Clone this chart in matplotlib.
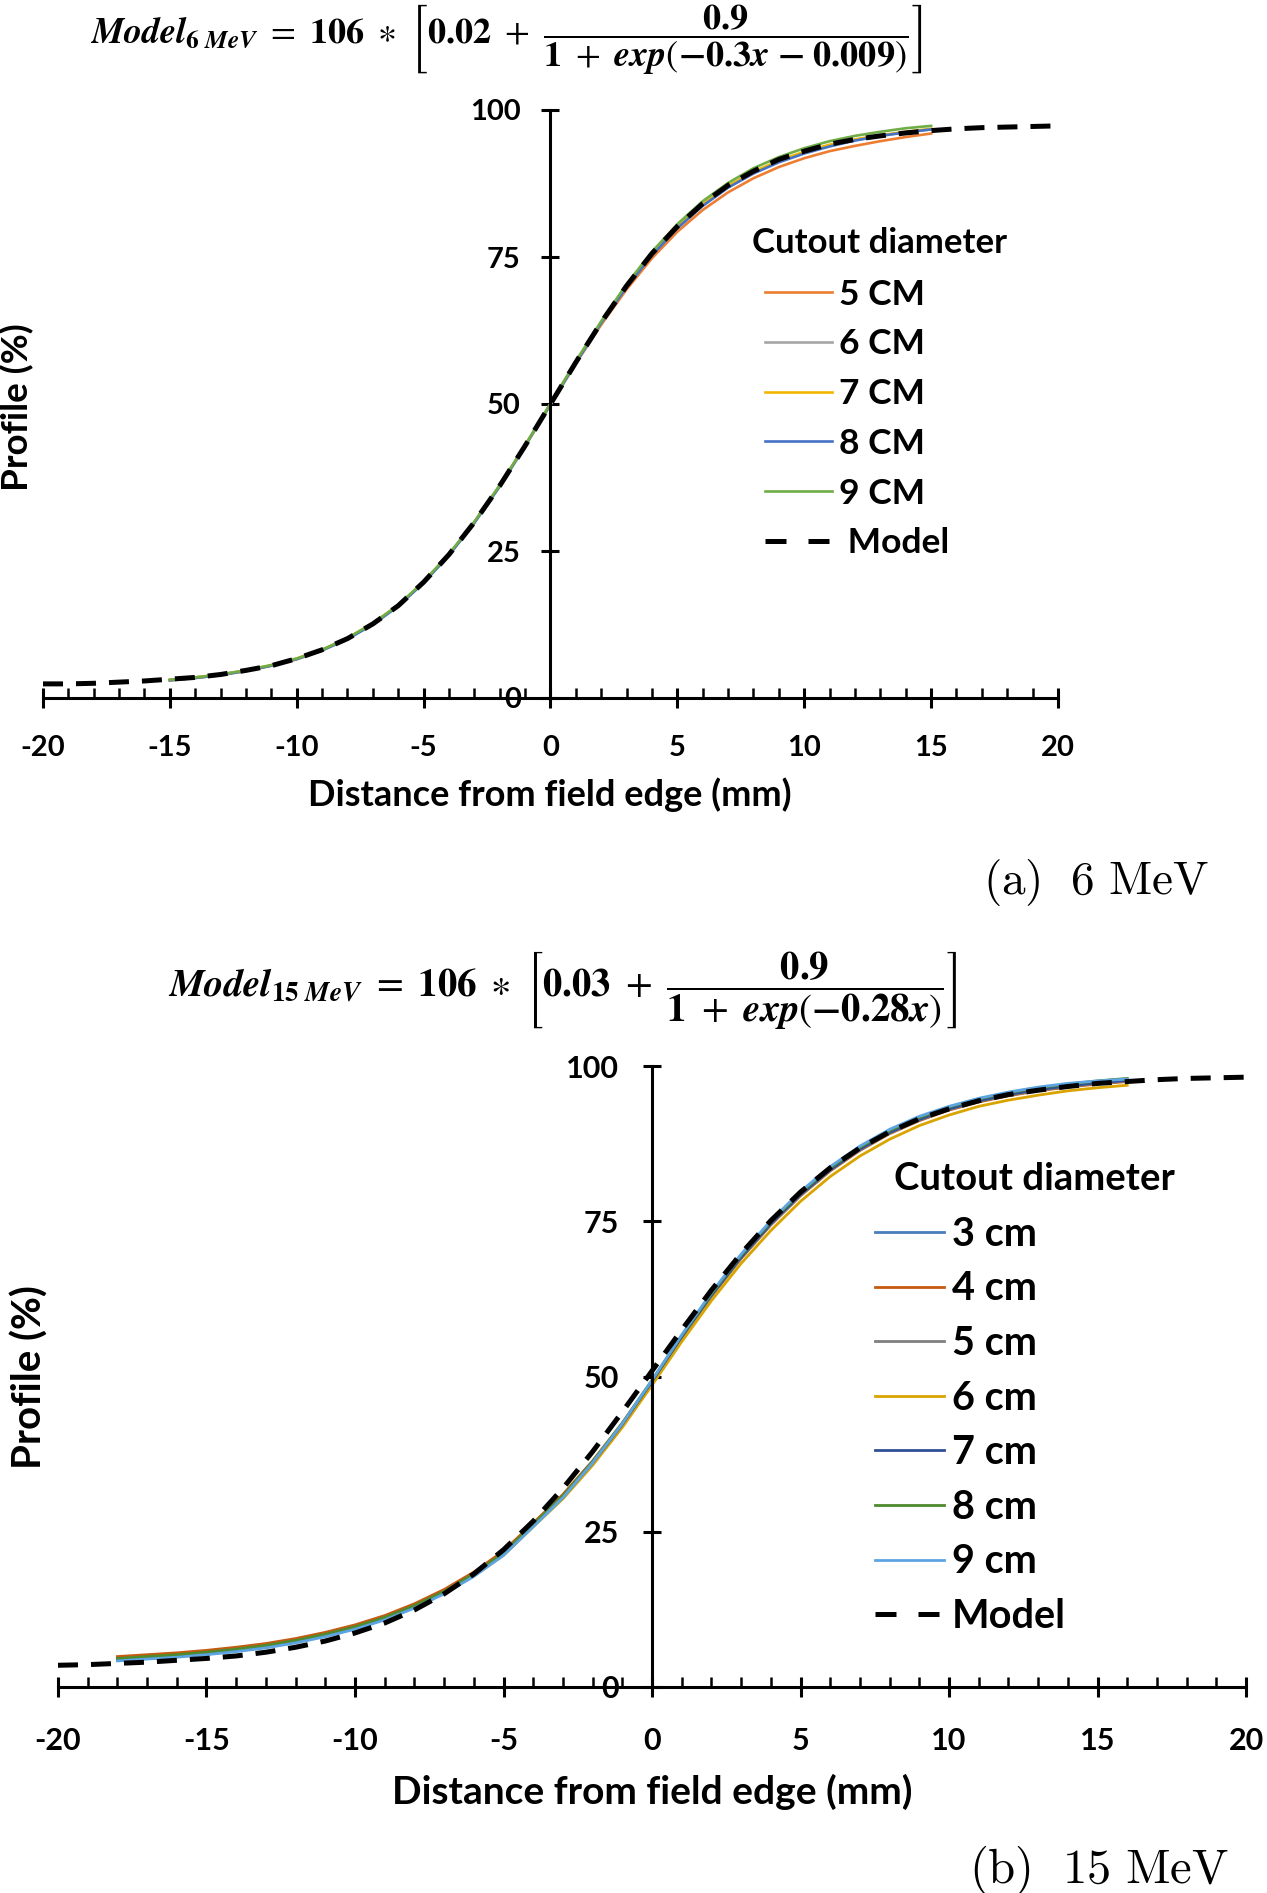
import numpy as np
import matplotlib
matplotlib.use('Agg')
import matplotlib.pyplot as plt
from matplotlib.lines import Line2D
from matplotlib.ticker import MultipleLocator

plt.rcParams['font.family'] = ['Lato', 'DejaVu Sans']
plt.rcParams['axes.unicode_minus'] = False

# ---- data ----
x_model = list(range(-20, 21))
x_6mev = list(range(-15, 16))
x_15mev = list(range(-18, 17))

model_6mev = [2.4, 2.4, 2.5, 2.7, 2.9, 3.2, 3.5, 4.0, 4.7, 5.5, 6.7, 8.2, 10.1, 12.6, 15.7, 19.7,
              24.4, 29.9, 36.1, 42.9, 50.0, 57.1, 63.9, 70.1, 75.6, 80.2, 84.1, 87.2, 89.6, 91.6,
              93.0, 94.2, 95.0, 95.6, 96.1, 96.5, 96.8, 97.0, 97.1, 97.2, 97.3]

cm5_6mev = [3.0, 3.4, 3.9, 4.6, 5.5, 6.6, 8.1, 10.1, 12.6, 15.7, 19.7, 24.4, 29.9, 36.1, 42.9, 49.9,
            56.9, 63.5, 69.5, 74.8, 79.3, 83.0, 86.0, 88.4, 90.3, 91.8, 93.0, 93.9, 94.7, 95.4, 96.0]
cm6_6mev = [3.1, 3.5, 4.0, 4.7, 5.5, 6.7, 8.2, 10.1, 12.6, 15.7, 19.6, 24.3, 29.8, 36.0, 42.8, 49.9,
            57.0, 63.8, 70.0, 75.4, 80.0, 83.8, 86.9, 89.3, 91.3, 92.8, 94.0, 94.9, 95.6, 96.2, 96.7]
cm7_6mev = [3.1, 3.5, 4.0, 4.7, 5.6, 6.7, 8.2, 10.2, 12.7, 15.8, 19.7, 24.4, 29.9, 36.1, 42.9, 50.0,
            57.1, 63.8, 70.0, 75.5, 80.1, 84.0, 87.1, 89.5, 91.4, 92.9, 94.1, 95.0, 95.7, 96.3, 96.8]
cm8_6mev = [3.0, 3.4, 3.9, 4.6, 5.5, 6.6, 8.1, 10.0, 12.5, 15.6, 19.6, 24.3, 29.8, 36.0, 42.9, 50.0,
            57.0, 63.8, 69.9, 75.3, 79.9, 83.7, 86.8, 89.2, 91.1, 92.6, 93.8, 94.8, 95.6, 96.2, 96.7]
cm9_6mev = [3.1, 3.5, 4.0, 4.7, 5.6, 6.7, 8.2, 10.2, 12.7, 15.8, 19.8, 24.5, 30.0, 36.2, 43.0, 50.1,
            57.3, 64.1, 70.4, 75.9, 80.6, 84.5, 87.6, 90.1, 92.0, 93.5, 94.7, 95.6, 96.3, 96.9, 97.3]

model_15mev = [3.5, 3.6, 3.8, 4.0, 4.3, 4.6, 5.0, 5.6, 6.4, 7.4, 8.7, 10.3, 12.4, 15.0, 18.2, 22.1,
               26.7, 32.0, 37.9, 44.3, 50.9, 57.5, 63.9, 69.8, 75.1, 79.7, 83.6, 86.8, 89.4, 91.5,
               93.1, 94.4, 95.4, 96.1, 96.7, 97.2, 97.5, 97.8, 98.0, 98.1, 98.2]

cm3_15mev = [4.3, 4.6, 4.9, 5.3, 5.8, 6.4, 7.2, 8.2, 9.4, 10.9, 12.8, 15.1, 17.9, 21.3, 25.9, 30.5, 36.0,
             42.2, 49.1, 56.4, 63.1, 69.3, 74.7, 79.4, 83.4, 86.7, 89.4, 91.5, 93.2, 94.5, 95.5, 96.3,
             96.9, 97.4, 97.8]
cm4_15mev = [4.9, 5.2, 5.5, 5.9, 6.4, 7.0, 7.8, 8.8, 10.0, 11.5, 13.4, 15.7, 18.5, 21.9, 26.4, 31.0, 36.4,
             42.5, 49.3, 56.3, 62.9, 69.0, 74.4, 79.1, 83.1, 86.4, 89.1, 91.2, 92.9, 94.2, 95.2, 96.0,
             96.6, 97.1, 97.5]
cm5_15mev = [4.5, 4.8, 5.1, 5.5, 6.0, 6.6, 7.4, 8.4, 9.6, 11.1, 13.0, 15.3, 18.1, 21.5, 26.1, 30.6, 36.1,
             42.3, 49.2, 56.3, 63.0, 69.1, 74.5, 79.2, 83.2, 86.5, 89.2, 91.3, 93.0, 94.3, 95.3, 96.1,
             96.7, 97.2, 97.6]
cm6_15mev = [4.5, 4.8, 5.1, 5.5, 6.0, 6.6, 7.4, 8.4, 9.6, 11.1, 12.9, 15.2, 17.9, 21.2, 25.8, 30.3, 35.7,
             41.8, 48.6, 55.6, 62.2, 68.2, 73.5, 78.2, 82.2, 85.5, 88.2, 90.4, 92.1, 93.5, 94.5, 95.3,
             96.0, 96.5, 96.9]
cm7_15mev = [4.4, 4.7, 5.0, 5.4, 5.9, 6.5, 7.3, 8.3, 9.5, 11.0, 12.9, 15.2, 18.0, 21.4, 26.0, 30.6, 36.1,
             42.3, 49.2, 56.4, 63.1, 69.2, 74.6, 79.3, 83.3, 86.6, 89.3, 91.4, 93.1, 94.4, 95.4, 96.2,
             96.8, 97.3, 97.7]
cm8_15mev = [4.6, 4.9, 5.2, 5.6, 6.1, 6.7, 7.5, 8.5, 9.7, 11.2, 13.1, 15.4, 18.2, 21.6, 26.2, 30.8, 36.3,
             42.5, 49.4, 56.6, 63.3, 69.5, 74.9, 79.6, 83.6, 86.9, 89.6, 91.7, 93.4, 94.7, 95.7, 96.5,
             97.1, 97.6, 98.0]
cm9_15mev = [4.2, 4.5, 4.8, 5.2, 5.7, 6.3, 7.1, 8.1, 9.3, 10.8, 12.7, 15.0, 17.8, 21.2, 25.8, 30.5, 36.1,
             42.4, 49.4, 56.7, 63.5, 69.7, 75.1, 79.8, 83.8, 87.1, 89.8, 91.9, 93.5, 94.8, 95.8, 96.6,
             97.2, 97.6, 97.9]

labels_6mev = ['5 CM', '6 CM', '7 CM', '8 CM', '9 CM']
colors_6mev = ['#ED7D31', '#A5A5A5', '#F2B600', '#4472C4', '#70AD47']
labels_15mev = ['3 cm', '4 cm', '5 cm', '6 cm', '7 cm', '8 cm', '9 cm']
colors_15mev = ['#4A7EBB', '#C55A11', '#7F7F7F', '#D9A300', '#2F4F96', '#4E8A2E', '#5DA5E2']

W, H = 1267, 1893
fig = plt.figure(figsize=(W / 100, H / 100), dpi=100)


def px(x0, y0, x1, y1):
    # figure-pixel box -> axes rect
    return [x0 / W, 1 - y1 / H, (x1 - x0) / W, (y1 - y0) / H]


def style_axes(ax, tick_size, pad_x, pad_y):
    ax.set_xlim(-20, 20)
    ax.set_ylim(0, 100)
    ax.spines['left'].set_position(('data', 0))
    ax.spines['bottom'].set_position(('data', 0))
    ax.spines['top'].set_visible(False)
    ax.spines['right'].set_visible(False)
    for s in ['left', 'bottom']:
        ax.spines[s].set_linewidth(2.2)
    ax.xaxis.set_major_locator(MultipleLocator(5))
    ax.xaxis.set_minor_locator(MultipleLocator(1))
    ax.yaxis.set_major_locator(MultipleLocator(25))
    ax.tick_params(axis='x', which='major', direction='inout', length=15, width=2.2,
                   labelsize=tick_size, pad=pad_x)
    ax.tick_params(axis='x', which='minor', direction='in', length=7, width=1.8)
    ax.tick_params(axis='y', which='major', direction='inout', length=13, width=2.2,
                   labelsize=tick_size, pad=pad_y)
    for lab in ax.get_xticklabels() + ax.get_yticklabels():
        lab.set_fontweight('bold')
    ax.patch.set_alpha(0)


# legend handle for the model: two dashes, like the Excel legend
model_key = Line2D([], [], color='black', lw=3.6, dashes=(4.2, 4.4))

# ---- (a) 6 MeV ----
ax1 = fig.add_axes(px(43, 110, 1058, 698))
series_6 = [cm5_6mev, cm6_6mev, cm7_6mev, cm8_6mev, cm9_6mev]
handles1 = []
for y, lab, c in zip(series_6, labels_6mev, colors_6mev):
    handles1 += ax1.plot(x_6mev, y, color=c, lw=1.9, label=lab)
ax1.plot(x_model, model_6mev, color='black', lw=3.6, dashes=(4, 2.6))
style_axes(ax1, 21, 19, 15)
ax1.legend(handles1 + [model_key], labels_6mev + [' Model'],
           loc='upper left', bbox_to_anchor=(747 / W, 1 - 261 / H), bbox_transform=fig.transFigure,
           frameon=False, borderpad=0, handlelength=1.9, handletextpad=0.2, labelspacing=0.5,
           prop={'weight': 'bold', 'size': 25.5})
fig.text(752 / W, 1 - 243 / H, 'Cutout diameter', ha='left', va='center',
         fontsize=25, fontweight='bold')
fig.text(550 / W, 1 - 795 / H, 'Distance from field edge (mm)', ha='center', va='center',
         fontsize=26, fontweight='bold')
fig.text(17 / W, 1 - 407 / H, 'Profile (%)', ha='center', va='center', rotation=90,
         fontsize=26.5, fontweight='bold')
fig.text(506 / W, 1 - 40 / H,
         r'$\mathbfit{Model}_{\mathbf{6}\ \mathbfit{MeV}}\ =\ \mathbf{106}\ \ast\ \left[\mathbf{0.02}\ +\ '
         r'\dfrac{\mathbf{0.9}}{\mathbf{1}\ +\ \mathbfit{exp}(\mathbf{-0.3}\mathbfit{x}\ \mathbf{-}\ \mathbf{0.009})}\right]$',
         ha='center', va='center', fontsize=26, math_fontfamily='stix')
fig.text(1096 / W, 1 - 882 / H, r'$\mathrm{(a)\ \ 6\ MeV}$', ha='center', va='center',
         fontsize=34, math_fontfamily='cm')

# ---- (b) 15 MeV ----
ax2 = fig.add_axes(px(58, 1066, 1246, 1687))
series_15 = [cm3_15mev, cm4_15mev, cm5_15mev, cm6_15mev, cm7_15mev, cm8_15mev, cm9_15mev]
handles2 = []
for y, lab, c in zip(series_15, labels_15mev, colors_15mev):
    handles2 += ax2.plot(x_15mev, y, color=c, lw=2.0, label=lab)
ax2.plot(x_model, model_15mev, color='black', lw=3.6, dashes=(4, 2.6))
style_axes(ax2, 22, 21, 17)
ax2.legend(handles2 + [model_key], labels_15mev + ['Model'],
           loc='upper left', bbox_to_anchor=(855 / W, 1 - 1196 / H), bbox_transform=fig.transFigure,
           frameon=False, borderpad=0, handlelength=1.75, handletextpad=0.2, labelspacing=0.445,
           prop={'weight': 'bold', 'size': 28.5})
fig.text(894 / W, 1 - 1179 / H, 'Cutout diameter', ha='left', va='center',
         fontsize=27.5, fontweight='bold')
fig.text(652 / W, 1 - 1792 / H, 'Distance from field edge (mm)', ha='center', va='center',
         fontsize=28, fontweight='bold')
fig.text(30 / W, 1 - 1377 / H, 'Profile (%)', ha='center', va='center', rotation=90,
         fontsize=29, fontweight='bold')
fig.text(563 / W, 1 - 990 / H,
         r'$\mathbfit{Model}_{\mathbf{15}\ \mathbfit{MeV}}\ =\ \mathbf{106}\ \ast\ \left[\mathbf{0.03}\ +\ '
         r'\dfrac{\mathbf{0.9}}{\mathbf{1}\ +\ \mathbfit{exp}(\mathbf{-0.28}\mathbfit{x})}\right]$',
         ha='center', va='center', fontsize=28, math_fontfamily='stix')
fig.text(1099 / W, 1 - 1870 / H, r'$\mathrm{(b)\ \ 15\ MeV}$', ha='center', va='center',
         fontsize=35, math_fontfamily='cm')

fig.savefig('out.png', dpi=100)
